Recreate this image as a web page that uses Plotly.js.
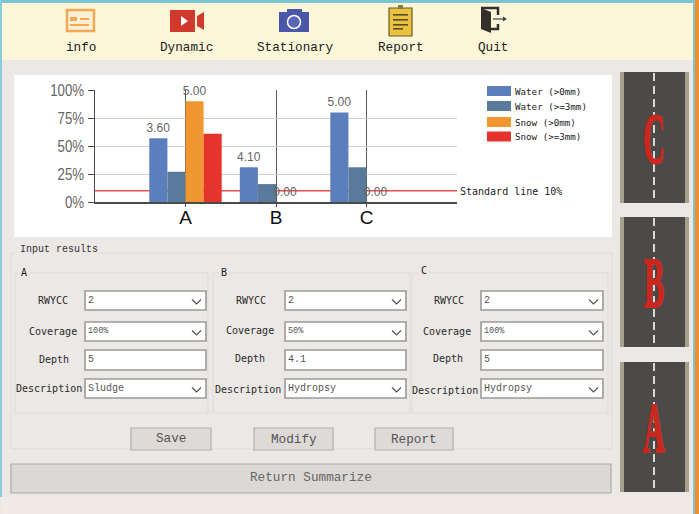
<!DOCTYPE html>
<html><head><meta charset="utf-8">
<script src="https://cdn.plot.ly/plotly-3.0.1.min.js"></script>
<style>html,body{margin:0;padding:0;background:#ece8e6;overflow:hidden}#chart{width:699px;height:514px}</style>
</head><body><div id="chart"></div>
<script>
// ---- chart data ----
const categories = ['A', 'B', 'C'];
const seriesNames = ['Water (>0mm)', 'Water (>=3mm)', 'Snow (>0mm)', 'Snow (>=3mm)'];
const seriesColors = ['#5b7fbd', '#5a7a9c', '#f0982f', '#e5342b'];
const waterOver0 = [57, 31, 80];
const waterOver3 = [27, 16, 31];
const snowOver0 = [90, 0, 0];
const snowOver3 = [61, 0, 0];
const waterLabels = ['3.60', '4.10', '5.00'];
const snowLabels = ['5.00', '0.00', '0.00'];
const yTicks = [0, 25, 50, 75, 100];
const yTickLabels = ['0%', '25%', '50%', '75%', '100%'];
const standardValue = 10;
const standardLabel = 'Standard line 10%';
// ---- form / interface text ----
const toolbarLabels = ['info', 'Dynamic', 'Stationary', 'Report', 'Quit'];
const rowLabels = ['RWYCC', 'Coverage', 'Depth', 'Description'];
const rwyccValues = ['2', '2', '2'];
const coverageValues = ['100%', '50%', '100%'];
const depthValues = ['5', '4.1', '5'];
const descriptionValues = ['Sludge', 'Hydropsy', 'Hydropsy'];
const buttonLabels = ['Save', 'Modify', 'Report'];

const L = 95, R = 457, T = 90, B = 202;
const X = p => (p - L) / (R - L), Y = p => (B - p) / (B - T);
const MONO = '"Liberation Mono","DejaVu Sans Mono",monospace';
const DEJA = '"DejaVu Sans Mono","Liberation Mono",monospace';
const SANS = '"Liberation Sans",Arial,sans-serif';
const shapes = [], annotations = [];
function rect(x0, y0, x1, y1, fill, line, lw) {
  shapes.push({type:'rect', xref:'paper', yref:'paper', layer:'below', x0:X(x0), x1:X(x1), y0:Y(y0), y1:Y(y1),
    fillcolor:fill || 'rgba(0,0,0,0)', line:{color:line || 'rgba(0,0,0,0)', width:line ? (lw || 1) : 0}});
}
function poly(pts, closed, fill, line, lw, dash) {
  const d = pts.map((q, i) => (i ? 'L' : 'M') + X(q[0]) + ',' + Y(q[1])).join(' ') + (closed ? ' Z' : '');
  shapes.push({type:'path', xref:'paper', yref:'paper', layer:'below', path:d,
    fillcolor:fill || 'rgba(0,0,0,0)', line:{color:line || 'rgba(0,0,0,0)', width:line ? (lw || 1) : 0, dash:dash || 'solid'}});
}
function circle(cx, cy, r, fill, line, lw) {
  shapes.push({type:'circle', xref:'paper', yref:'paper', layer:'below', x0:X(cx - r), x1:X(cx + r), y0:Y(cy + r), y1:Y(cy - r),
    fillcolor:fill, line:{color:line, width:lw}});
}
function label(text, x, y, size, color, anchor, family, bold) {
  annotations.push({text: bold ? '<b>' + text + '</b>' : text, xref:'paper', yref:'paper', x:X(x), y:Y(y), xanchor:anchor || 'center', yanchor:'middle',
    showarrow:false, borderpad:0, borderwidth:0, font:{family:family || MONO, size:size, color:color}});
  return annotations.length - 1;
}

// window chrome
rect(0, 3, 695, 60, '#fdf6d8');
rect(0, 0, 699, 3, '#7cc4d2');
rect(0, 0, 2, 497, '#86cde0');
rect(693, 0, 695, 514, '#7cc4d2');
rect(695, 0, 699, 514, '#ef8f2e');
rect(2, 497, 693, 514, '#f1ebe8');
rect(14, 75, 612, 237, '#ffffff');

// toolbar icons
rect(67, 10, 94, 31, '#fdf0d4', '#f2a857', 2.5);
rect(70, 17, 77, 21, '#f2a857');
rect(80, 18, 89, 20, '#f2a857');
rect(70, 24, 89, 26, '#f2a857');
rect(170, 10, 195, 32, '#d0392b');
poly([[181,16],[188,21],[181,26]], true, '#ffffff');
poly([[197,16],[204,12],[204,30],[197,26]], true, '#d0392b');
rect(279, 12, 309, 32, '#4a56aa');
rect(287, 9, 302, 13, '#4a56aa');
circle(294, 22, 6.5, '#5a66b8', '#ffffff', 1.5);
rect(389, 8, 412, 36, '#e9c23e', '#6a5a30', 1.2);
rect(398, 5, 403, 9, '#8a7a45');
[14, 19, 24].forEach(y => rect(393, y, 408, y + 1.6, '#5a4c28'));
rect(393, 28, 403, 29.6, '#5a4c28');
poly([[481,8],[491,12],[491,33],[481,29]], true, '#33302c');
poly([[481,8],[498,8],[498,15]], false, null, '#33302c', 2.5);
poly([[498,24],[498,29],[491,29]], false, null, '#33302c', 2.5);
poly([[493,19],[504,19]], false, null, '#444', 1.2);
poly([[503,16.5],[507,19],[503,21.5]], true, '#444');
const toolbarX = [81, 186, 295, 401, 493];
toolbarLabels.forEach((t, i) => label(t, toolbarX[i], 47, 12.7, '#1c1c1c'));

// road panels with red letters
const roadY = [[72, 203, 'C', 139], [217, 347, 'B', 283], [362, 492, 'A', 428]];
const letterIdx = [];
roadY.forEach(r => {
  rect(620, r[0], 689, r[1], '#a8a08a');
  rect(624, r[0], 685, r[1], '#4b4a48');
  poly([[654, r[0] + 1], [654, r[1]]], false, null, '#d9d9d6', 2, '8px,5px');
  letterIdx.push(label(r[2], 654, r[3], 72, '#c9281f', 'center', '"Liberation Serif",serif', true));
});

// input results group
const frame = '#dfdbd7';
rect(11, 253, 612, 449, null, frame, 1);
rect(17, 247, 100, 256, '#ece8e6');
label('Input results', 20, 249, 10, '#333', 'left');
const panels = [[15, 208], [213, 410], [412, 608]];
const boxes = [[85, 206], [285, 406], [481, 603]];
const heads = [[24, 272], [224, 272], [424, 270]];
const rowY = [[291, 310], [322, 341], [350, 370], [379, 398]];
const labelPos = [
  [[53,300],[53,331],[54,359],[49,388]],
  [[251,300],[250,330],[250,358],[248,389]],
  [[449,300],[447,331],[448,358],[445,390]]
];
categories.forEach((c, i) => {
  rect(panels[i][0], 273, panels[i][1], 413, null, frame, 1);
  rect(heads[i][0] - 5, 268, heads[i][0] + 6, 275, '#ece8e6');
  label(c, heads[i][0], heads[i][1], 10, '#222', 'center', DEJA);
  const vals = [rwyccValues[i], coverageValues[i], depthValues[i], descriptionValues[i]];
  rowY.forEach((ry, j) => {
    rect(boxes[i][0], ry[0], boxes[i][1], ry[1], '#ffffff', '#9c9a98', 1.6);
    label(rowLabels[j], labelPos[i][j][0], labelPos[i][j][1], 10, '#2a2a2a', 'center', DEJA);
    label(vals[j], boxes[i][0] + 3, (ry[0] + ry[1]) / 2 - 0.5, j === 1 ? 8.5 : 10, '#555', 'left');
    if (j !== 2) {
      const bx = boxes[i][1] - 14, by = (ry[0] + ry[1]) / 2 + 1;
      poly([[bx, by - 2], [bx + 4.5, by + 2.5], [bx + 9, by - 2]], false, null, '#555', 1.2);
    }
  });
});

// buttons
const btnX = [[131, 211], [254, 333], [375, 453]];
buttonLabels.forEach((t, i) => {
  rect(btnX[i][0], 428, btnX[i][1], 450, '#dedad8', '#b4b0ad', 1.2);
  label(t, (btnX[i][0] + btnX[i][1]) / 2, i === 0 ? 438 : 439, 12.7, '#555');
});
rect(11, 464, 611, 493, '#dcd8d5', '#aeaba7', 1.2);
label('Return Summarize', 311, 477, 12.7, '#666');

// legend drawn beside the plot
const legendY = [91, 106, 122, 136.5];
seriesNames.forEach((n, i) => {
  rect(487, legendY[i] - 5, 511, legendY[i] + 5, seriesColors[i]);
  label(n, 515, legendY[i], 9.2, '#222', 'left', DEJA);
});
label(standardLabel, 460, 191, 10, '#222', 'left', DEJA);

// standard line, tied to the y axis
shapes.push({type:'line', xref:'paper', yref:'y', layer:'between', x0:0, x1:1, y0:standardValue, y1:standardValue,
  line:{color:'#e4504f', width:1.5}});

const valueFont = {family:SANS, size:12, color:'#666'};
const barBase = {type:'bar', cliponaxis:false, constraintext:'none'};
const data = [
  Object.assign({}, barBase, {name:seriesNames[0], x:categories, y:waterOver0, text:waterLabels, textposition:'outside', textfont:valueFont, marker:{color:seriesColors[0]}}),
  Object.assign({}, barBase, {name:seriesNames[1], x:categories, y:waterOver3, marker:{color:seriesColors[1]}}),
  Object.assign({}, barBase, {name:seriesNames[2], x:categories, y:snowOver0, text:snowLabels, textposition:'outside', textfont:valueFont, marker:{color:seriesColors[2]}}),
  Object.assign({}, barBase, {name:seriesNames[3], x:categories, y:snowOver3, marker:{color:seriesColors[3]}})
];
const layout = {
  width:699, height:514, margin:{l:L, r:699 - R, t:T, b:514 - B, pad:0},
  paper_bgcolor:'#ece8e6', plot_bgcolor:'rgba(0,0,0,0)', showlegend:false,
  barmode:'group', bargap:0.2, bargroupgap:0,
  xaxis:{type:'category', range:[-1, 3], categoryorder:'array', categoryarray:categories, fixedrange:true,
    showline:true, linecolor:'#4a4a4a', linewidth:1.5, ticks:'outside', ticklen:3, tickcolor:'#4a4a4a',
    showgrid:true, gridcolor:'#5a5a5a', gridwidth:1, zeroline:false, ticklabelstandoff:-5,
    tickfont:{family:SANS, size:19, color:'#111'}},
  yaxis:{range:[0, 100], tickvals:yTicks, ticktext:yTickLabels, fixedrange:true,
    showline:true, linecolor:'#4a4a4a', linewidth:1.5, ticks:'outside', ticklen:6, tickcolor:'#4a4a4a',
    showgrid:true, gridcolor:'#cfcfcf', gridwidth:1, zeroline:false,
    tickfont:{family:SANS, size:17, color:'#666'}},
  shapes:shapes, annotations:annotations
};
Plotly.newPlot('chart', data, layout, {displayModeBar:false, staticPlot:true}).then(gd => {
  // the reference's road letters are tall, condensed and heavy
  letterIdx.forEach(i => {
    const t = gd.querySelector('.annotation[data-index="' + i + '"] text');
    if (!t) return;
    const b = t.getBBox(), cx = b.x + b.width / 2;
    t.setAttribute('transform', 'translate(' + cx + ',0) scale(0.42,1) translate(' + (-cx) + ',0)');
    t.style.stroke = '#c9281f';
    t.style.strokeWidth = '2px';
  });
  // and the percent tick labels are condensed too; keep the position Plotly gave them
  gd.querySelectorAll('.ytick text').forEach(t => {
    const x = parseFloat(t.getAttribute('x'));
    const old = t.getAttribute('transform') || '';
    t.setAttribute('transform', old + ' translate(' + x + ',0) scale(0.78,1) translate(' + (-x) + ',0)');
  });
});
</script></body></html>
